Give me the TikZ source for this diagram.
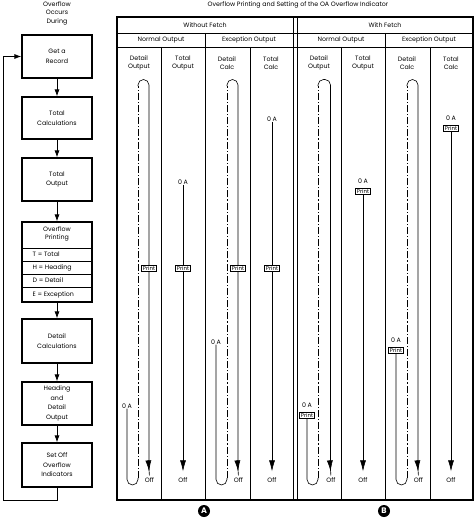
\documentclass[tikz,border=0pt]{standalone}
\usepackage{fontspec}
\setmainfont{Poppins}
\usetikzlibrary{arrows.meta}
\begin{document}
\begin{tikzpicture}[x=1pt,y=-1pt,
  fl/.style={font=\fontsize{6.3}{8.5}\selectfont, inner sep=0pt, align=center},
  fbox/.style={draw, line width=1.2pt, minimum width=70pt, align=center, inner sep=0pt, font=\fontsize{6.3}{9.5}\selectfont},
  flow/.style={line width=0.8pt, -{Latex[length=7pt,width=5pt]}},
  tl/.style={line width=0.6pt},
  frm/.style={line width=1.3pt},
  lab/.style={font=\fontsize{6.3}{7}\selectfont, inner sep=0pt},
  prt/.style={draw, fill=white, line width=0.6pt, font=\fontsize{5.5}{6}\selectfont, inner xsep=1.2pt, inner ysep=0.9pt},
  down/.style={line width=0.6pt, -{Latex[length=11pt,width=6pt]}, shorten >=6pt},
  dd/.style={line width=0.6pt, dash pattern=on 7pt off 2pt on 1.2pt off 2pt},
  uturn/.style={line width=0.6pt, rounded corners=5.5pt},
  circ/.style={circle, fill=black, text=white, inner sep=0pt, minimum size=12pt, font=\fontsize{8}{8}\selectfont\bfseries}
]
\useasboundingbox (0,0) rectangle (474,519);

% ---------- left flowchart ----------
\node[fl] (hdr) at (57,13) {Overflow\\Occurs\\During};
\node[fbox, minimum height=43pt] (get) at (57,56.5) {Get a\\Record};
\node[fbox, minimum height=42pt] (tcalc) at (57,118) {Total\\Calculations};
\node[fbox, minimum height=43pt] (tout) at (57,179.5) {Total\\Output};
\node[fbox, minimum height=80pt] (ovf) at (57,262) {};
\node[fl] (ovft) at (57,234) {Overflow\\Printing};
\draw[tl] (22,248) -- (92,248);
\draw[tl] (22,261) -- (92,261);
\draw[tl] (22,274) -- (92,274);
\draw[tl] (22,287) -- (92,287);
\node[fl, anchor=west] (rT) at (32.5,254.5) {T = Total};
\node[fl, anchor=west] (rH) at (32.5,267.5) {H = Heading};
\node[fl, anchor=west] (rD) at (32.5,280.5) {D = Detail};
\node[fl, anchor=west] (rE) at (32.5,294.5) {E = Exception};
\node[fbox, minimum height=44pt] (dcalc) at (57,341) {Detail\\Calculations};
\node[fbox, minimum height=43pt] (hdo) at (57,403.5) {Heading\\and\\Detail\\Output};
\node[fbox, minimum height=44pt] (soff) at (57,465) {Set Off\\Overflow\\Indicators};

\draw[flow] (get) -- (tcalc);
\draw[flow] (tcalc) -- (tout);
\draw[flow] (tout) -- (ovf);
\draw[flow] (ovf) -- (dcalc);
\draw[flow] (dcalc) -- (hdo);
\draw[flow] (hdo) -- (soff);
\coordinate (l1) at (57,500);
\coordinate (l2) at (3,500);
\coordinate (l3) at (3,56.5);
\draw[flow] (soff.south) -- (l1) -- (l2) -- (l3) -- (get.west);

% ---------- table frame ----------
\node[fl] (title) at (298,5) {Overflow Printing and Setting of the OA Overflow Indicator};
\draw[frm] (117,17) rectangle (473,500);
\draw[tl] (117,33) -- (473,33);
\draw[tl] (117,47) -- (473,47);
\draw[tl] (293,17) -- (293,500);
\draw[tl] (297,17) -- (297,500);
\draw[tl] (205,33) -- (205,500);
\draw[tl] (385,33) -- (385,500);
\foreach \xx in {161,250,341,430} \draw[tl] (\xx,47) -- (\xx,500);

\node[fl] (wo) at (205,25) {Without Fetch};
\node[fl] (wi) at (385,25) {With Fetch};
\node[fl] (no1) at (161,40) {Normal Output};
\node[fl] (ex1) at (249,40) {Exception Output};
\node[fl] (no2) at (341,40) {Normal Output};
\node[fl] (ex2) at (429,40) {Exception Output};
\node[fl] (h1) at (139,63) {Detail\\Output};
\node[fl] (h2) at (183,63) {Total\\Output};
\node[fl] (h3) at (227,63) {Detail\\Calc};
\node[fl] (h4) at (271,63) {Total\\Calc};
\node[fl] (h5) at (319,63) {Detail\\Output};
\node[fl] (h6) at (363,63) {Total\\Output};
\node[fl] (h7) at (407,63) {Detail\\Calc};
\node[fl] (h8) at (451,63) {Total\\Calc};

% ---------- Without Fetch: Detail Output ----------
\node[lab] (a1) at (127,406) {0 A};
\node[lab] (o1) at (149.5,480) {Off};
\draw[uturn] (a1.south) -- (127,485) -- (138,485) -- (138,478);
\draw[dd] (138,478) -- (138,86);
\draw[down, rounded corners=5.5pt] (138,86) -- (138,79.5) -- (149,79.5) -- (149,470) -- (o1.north);
\node[prt] (p1) at (149,268) {Print};

% ---------- Without Fetch: Total Output ----------
\node[lab] (a2) at (183,182) {0 A};
\node[lab] (o2) at (183,480) {Off};
\draw[down] (a2.south) -- (o2.north);
\node[prt] (p2) at (183,268) {Print};

% ---------- Without Fetch: Detail Calc ----------
\node[lab] (a3) at (216,342) {0 A};
\node[lab] (o3) at (238.5,480) {Off};
\draw[uturn] (a3.south) -- (216,485) -- (227,485) -- (227,478);
\draw[dd] (227,478) -- (227,86);
\draw[down, rounded corners=5.5pt] (227,86) -- (227,79.5) -- (238,79.5) -- (238,470) -- (o3.north);
\node[prt] (p3) at (238,268) {Print};

% ---------- Without Fetch: Total Calc ----------
\node[lab] (a4) at (272,119) {0 A};
\node[lab] (o4) at (272,480) {Off};
\draw[down] (a4.south) -- (o4.north);
\node[prt] (p4) at (272,268) {Print};

% ---------- With Fetch: Detail Output ----------
\node[lab] (a5) at (307,405) {0 A};
\node[prt] (p5) at (307,415) {Print};
\node[lab] (o5) at (331,480) {Off};
\draw[uturn] (p5.south) -- (307,485) -- (318,485) -- (318,478);
\draw[dd] (318,478) -- (318,86);
\draw[down, rounded corners=5.5pt] (318,86) -- (318,79.5) -- (330.5,79.5) -- (330.5,470) -- (o5.north);

% ---------- With Fetch: Total Output ----------
\node[lab] (a6) at (363,181) {0 A};
\node[prt] (p6) at (363,191) {Print};
\node[lab] (o6) at (363,480) {Off};
\draw[down] (p6.south) -- (o6.north);

% ---------- With Fetch: Detail Calc ----------
\node[lab] (a7) at (396,340) {0 A};
\node[prt] (p7) at (396,350) {Print};
\node[lab] (o7) at (418.5,480) {Off};
\draw[uturn] (p7.south) -- (396,485) -- (407,485) -- (407,478);
\draw[dd] (407,478) -- (407,86);
\draw[down, rounded corners=5.5pt] (407,86) -- (407,79.5) -- (418,79.5) -- (418,470) -- (o7.north);

% ---------- With Fetch: Total Calc ----------
\node[lab] (a8) at (451,118) {0 A};
\node[prt] (p8) at (451,128) {Print};
\node[lab] (o8) at (451,480) {Off};
\draw[down] (p8.south) -- (o8.north);

% ---------- markers ----------
\node[circ] (cA) at (204,511) {A};
\node[circ] (cB) at (384,511) {B};
\end{tikzpicture}
\end{document}
